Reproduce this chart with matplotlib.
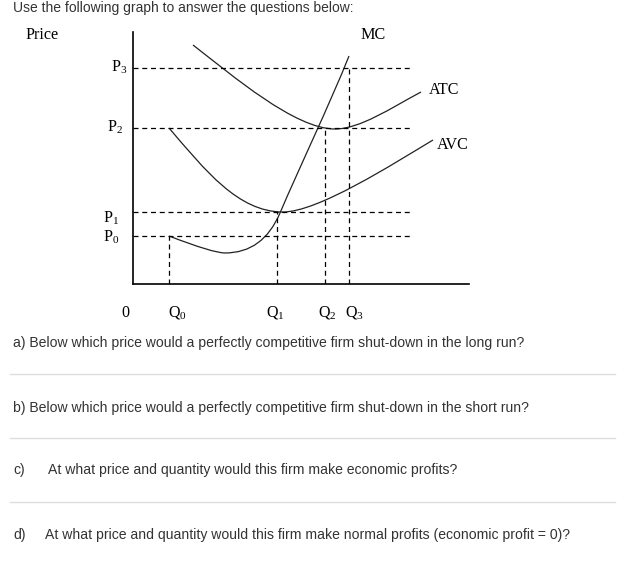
import numpy as np
import matplotlib.pyplot as plt
from matplotlib.path import Path
from matplotlib.patches import PathPatch

plt.rcParams['mathtext.fontset'] = 'custom'
plt.rcParams['mathtext.rm'] = 'Liberation Serif'

# price levels / quantities (distance from the origin, in chart units)
price_labels = ['P$_0$', 'P$_1$', 'P$_2$', 'P$_3$']
prices = [48, 72, 156, 216]
qty_labels = ['Q$_0$', 'Q$_1$', 'Q$_2$', 'Q$_3$']
quantities = [36, 144, 192, 216]

# curves as bezier segments: (start, controls..., end)
mc_segs = [
    [(36, 48), (80, 31), (92, 31)],
    [(92, 31), (130, 31), (147, 71)],
    [(147, 71), (167, 118), (196, 178), (216, 228)],
]
atc_segs = [
    [(60, 239), (100, 208), (162, 155), (202, 155)],
    [(202, 155), (227, 155), (258, 176), (288, 192)],
]
avc_segs = [
    [(36, 156), (72, 114), (105, 72), (150, 72)],
    [(150, 72), (185, 72), (260, 120), (300, 144)],
]

questions = [
    ('a) Below which price would a perfectly competitive firm shut-down in the long run?', None),
    ('b) Below which price would a perfectly competitive firm shut-down in the short run?', None),
    ('c)', 'At what price and quantity would this firm make economic profits?'),
    ('d)', 'At what price and quantity would this firm make normal profits (economic profit = 0)?'),
]

W, H = 632, 562
fig = plt.figure(figsize=(W / 100, H / 100), dpi=100)

# page layer in pixel units
page = fig.add_axes([0, 0, 1, 1])
page.set_xlim(0, W)
page.set_ylim(H, 0)
page.axis('off')

txt = '#333333'
page.text(13, 8, 'Use the following graph to answer the questions below:', fontsize=10,
          family='Liberation Sans', color=txt, va='center')

q_y = [343, 408, 470, 535]
sep_y = [374, 438, 502]
for (a, b), y in zip(questions, q_y):
    page.text(13, y, a, fontsize=10.1, family='Liberation Sans', color=txt, va='center')
    if b:
        page.text(48 if a == 'c)' else 45, y, b, fontsize=10.1, family='Liberation Sans',
                  color=txt, va='center')
for y in sep_y:
    page.plot([10, 615], [y, y], color='#dddddd', lw=1)

# chart
x0, y0 = 133, 284
ax = fig.add_axes([x0 / W, (H - y0) / H, (469 - x0) / W, (y0 - 32) / H])
ax.set_xlim(0, 336)
ax.set_ylim(0, 252)
ax.patch.set_alpha(0)
for s in ['top', 'right']:
    ax.spines[s].set_visible(False)
ax.spines['left'].set_linewidth(1.2)
ax.spines['bottom'].set_linewidth(1.2)
ax.set_xticks([])
ax.set_yticks([])


def curve(segs):
    verts = [segs[0][0]]
    codes = [Path.MOVETO]
    for seg in segs:
        code = Path.CURVE3 if len(seg) == 3 else Path.CURVE4
        verts += seg[1:]
        codes += [code] * (len(seg) - 1)
    return PathPatch(Path(verts, codes), fill=False, lw=0.9, color='#222222')


for segs in [mc_segs, atc_segs, avc_segs]:
    ax.add_patch(curve(segs))

for p in prices:
    ax.plot([0, 277], [p, p], 'k--', lw=0.9, dashes=(4, 3))
for q, p in zip(quantities, prices):
    ax.plot([q, q], [0, p], 'k--', lw=0.9, dashes=(4, 3))

serif = 'Liberation Serif'
fs = 11.6
label_x = [-14, -14, -10, -6]
label_dy = [-1, -6, 1, 1]
for lab, p, lx, dy in zip(price_labels, prices, label_x, label_dy):
    ax.text(lx, p + dy, lab, family=serif, fontsize=fs, ha='right', va='center')

ax.text(-8, -29, '0', family=serif, fontsize=fs, ha='center', va='center')
qx = [44, 142, 194, 222]
for lab, x in zip(qty_labels, qx):
    ax.text(x, -29, lab, family=serif, fontsize=fs, ha='center', va='center')

ax.text(-108, 249, 'Price', family=serif, fontsize=fs, ha='left', va='center')
ax.text(240, 249, 'MC', family=serif, fontsize=fs, ha='center', va='center')
ax.text(296, 194, 'ATC', family=serif, fontsize=fs, ha='left', va='center')
ax.text(304, 139, 'AVC', family=serif, fontsize=fs, ha='left', va='center')
for t in ax.texts:
    t.set_clip_on(False)

fig.savefig('out.png', dpi=100)
